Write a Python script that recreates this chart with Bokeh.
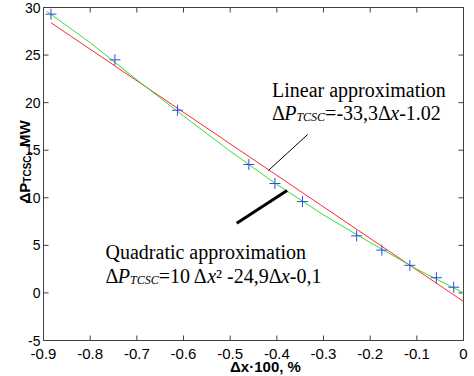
import math
from bokeh.plotting import figure
from bokeh.models import Range1d
from bokeh.embed import file_html
from bokeh.resources import INLINE
from bokeh.core.properties import value

# ---------------- data ----------------
dx_points = [-0.884, -0.747, -0.613, -0.460, -0.404, -0.345, -0.229, -0.175, -0.115, -0.058, -0.021]
dp_points = [29.3, 24.5, 19.2, 13.5, 11.5, 9.6, 6.0, 4.5, 2.9, 1.6, 0.6]

linear_x = [-0.884, 0.0]
linear_y = [28.4, -0.9]

quad_x = [-0.893, -0.8, -0.7, -0.6, -0.5, -0.4, -0.3, -0.2, -0.1, 0.0]
quad_y = [29.6, 26.3, 22.4, 18.6, 14.9, 11.4, 8.2, 5.3, 2.5, 0.0]

x_ticks = [-0.9, -0.8, -0.7, -0.6, -0.5, -0.4, -0.3, -0.2, -0.1, 0.0]
x_tick_labels = ["-0.9", "-0.8", "-0.7", "-0.6", "-0.5", "-0.4", "-0.3", "-0.2", "-0.1", "0"]
y_ticks = [-5, 0, 5, 10, 15, 20, 25, 30]
y_tick_labels = ["-5", "0", "5", "10", "15", "20", "25", "30"]

# ---------------- layout (pixel geometry of the axes box) ----------------
W, H = 474, 376
BOX_L, BOX_R, BOX_T, BOX_B = 43, 463, 7, 340
x0, x1 = x_ticks[0], x_ticks[-1]
y0, y1 = y_ticks[0], y_ticks[-1]
kx = (BOX_R - BOX_L) / (x1 - x0)          # px per x unit
ky = (BOX_B - BOX_T) / (y1 - y0)          # px per y unit
xr = Range1d(x0 - BOX_L / kx, x1 + (W - BOX_R) / kx)
yr = Range1d(y0 - (H - BOX_B) / ky, y1 + BOX_T / ky)

p = figure(width=W, height=H, x_range=xr, y_range=yr, output_backend="svg",
           toolbar_location=None, x_axis_type=None, y_axis_type=None,
           min_border=0, min_border_left=0, min_border_right=0,
           min_border_top=0, min_border_bottom=0)
p.xgrid.grid_line_color = None
p.ygrid.grid_line_color = None
p.outline_line_color = None
p.background_fill_color = "white"
p.border_fill_color = "white"

AX = "#404040"
TICK = 5

# axes box
p.quad(left=[x0], right=[x1], bottom=[y0], top=[y1], fill_color=None, line_color=AX, line_width=1)
# inward ticks on all four sides
nx, ny = len(x_ticks), len(y_ticks)
p.ray(x=x_ticks, y=[y0] * nx, length=TICK, length_units="screen", angle=math.pi / 2, line_color=AX)
p.ray(x=x_ticks, y=[y1] * nx, length=TICK, length_units="screen", angle=-math.pi / 2, line_color=AX)
p.ray(x=[x0] * ny, y=y_ticks, length=TICK, length_units="screen", angle=0, line_color=AX)
p.ray(x=[x1] * ny, y=y_ticks, length=TICK, length_units="screen", angle=math.pi, line_color=AX)

# tick labels
p.text(x=x_ticks, y=[y0] * nx, text=x_tick_labels, y_offset=13, text_align="center",
       text_baseline="middle", text_font=value("Liberation Sans"), text_font_size="15px",
       text_color="black")
p.text(x=[x0] * ny, y=y_ticks, text=y_tick_labels, x_offset=-3, text_align="right",
       text_baseline="middle", text_font=value("Liberation Sans"), text_font_size="14px",
       text_color="black")

# ---------------- marks ----------------
p.line(linear_x, linear_y, line_color="#ff2a2a", line_width=1)
p.line(quad_x, quad_y, line_color="#33dd33", line_width=1)
p.scatter(dx_points, dp_points, marker="cross", size=11, line_color="#2a4fe0", line_width=1)

# pointer lines
p.segment(x0=[-0.418], y0=[12.87], x1=[-0.334], y1=[16.65], line_color="black", line_width=1)
p.segment(x0=[-0.486], y0=[7.33], x1=[-0.378], y1=[10.77], line_color="black", line_width=3)

# ---------------- rich text helpers ----------------
SERIF_REG = {'L': 611, 'i': 278, 'n': 500, 'e': 444, 'a': 444, 'r': 333, ' ': 250, 'p': 500,
             'o': 500, 'x': 500, 'm': 778, 't': 278, 'Q': 722, 'u': 500, 'd': 500, 'c': 444,
             'Δ': 612, '=': 564, '-': 333, ',': 250, '.': 250, '²': 300}
SERIF_IT = {'P': 611, 'T': 556, 'C': 667, 'S': 500, 'x': 444}
SANS_BOLD = {'Δ': 722, 'P': 667, 'T': 611, 'C': 722, 'S': 667, ' ': 278, ',': 278, 'M': 833, 'W': 944}

def tw(s, table, size):
    return sum(table.get(ch, 500) for ch in s) * size / 1000.0

F = 20
FS = 12

def rich_text(x, y, pieces):
    off = 0.0
    for txt, italic, sub in pieces:
        size = FS if sub else F
        table = SERIF_IT if italic else SERIF_REG
        p.text(x=[x], y=[y], text=[txt], x_offset=off, y_offset=(4 if sub else 0),
               text_font=value("Liberation Serif"),
               text_font_style=("italic" if italic else "normal"),
               text_font_size=f"{size}px", text_baseline="alphabetic",
               text_align="left", text_color="black")
        off += tw(txt, table, size)

rich_text(-0.4104, 21.38, [("Linear approximation", False, False)])
rich_text(-0.4104, 18.86, [("Δ", False, False), ("P", True, False), ("TCSC", True, True),
                           ("=-33,3Δ", False, False), ("x", True, False), ("-1.02", False, False)])
rich_text(-0.7671, 4.35, [("Quadratic approximation", False, False)])
rich_text(-0.7671, 1.83, [("Δ", False, False), ("P", True, False), ("TCSC", True, True),
                          ("=10 Δ", False, False), ("x", True, False), ("² -24,9Δ", False, False),
                          ("x", True, False), ("-0,1", False, False)])

# ---------------- axis titles ----------------
YF, YFS = 15, 10
yl_x = x0 - 19 / kx        # baseline column of the rotated title
yl_y = 9.4                 # start (bottom) of the rotated title
off = 0.0
for txt, sub in [("ΔP", False), ("TCSC", True), (" , MW", False)]:
    size = YFS if sub else YF
    p.text(x=[yl_x + (3 / kx if sub else 0)], y=[yl_y + off / ky], text=[txt], angle=math.pi / 2,
           text_font=value("Liberation Sans"), text_font_style="bold",
           text_font_size=f"{size}px", text_baseline="alphabetic", text_align="left",
           text_color="black")
    off += tw(txt, SANS_BOLD, size)

p.text(x=[-0.4243], y=[-7.73], text=["Δx·100, %"], text_font=value("Liberation Sans"),
       text_font_style="bold", text_font_size="15px", text_baseline="alphabetic",
       text_align="center", text_color="black")

open("out.html", "w").write(file_html(p, INLINE))
